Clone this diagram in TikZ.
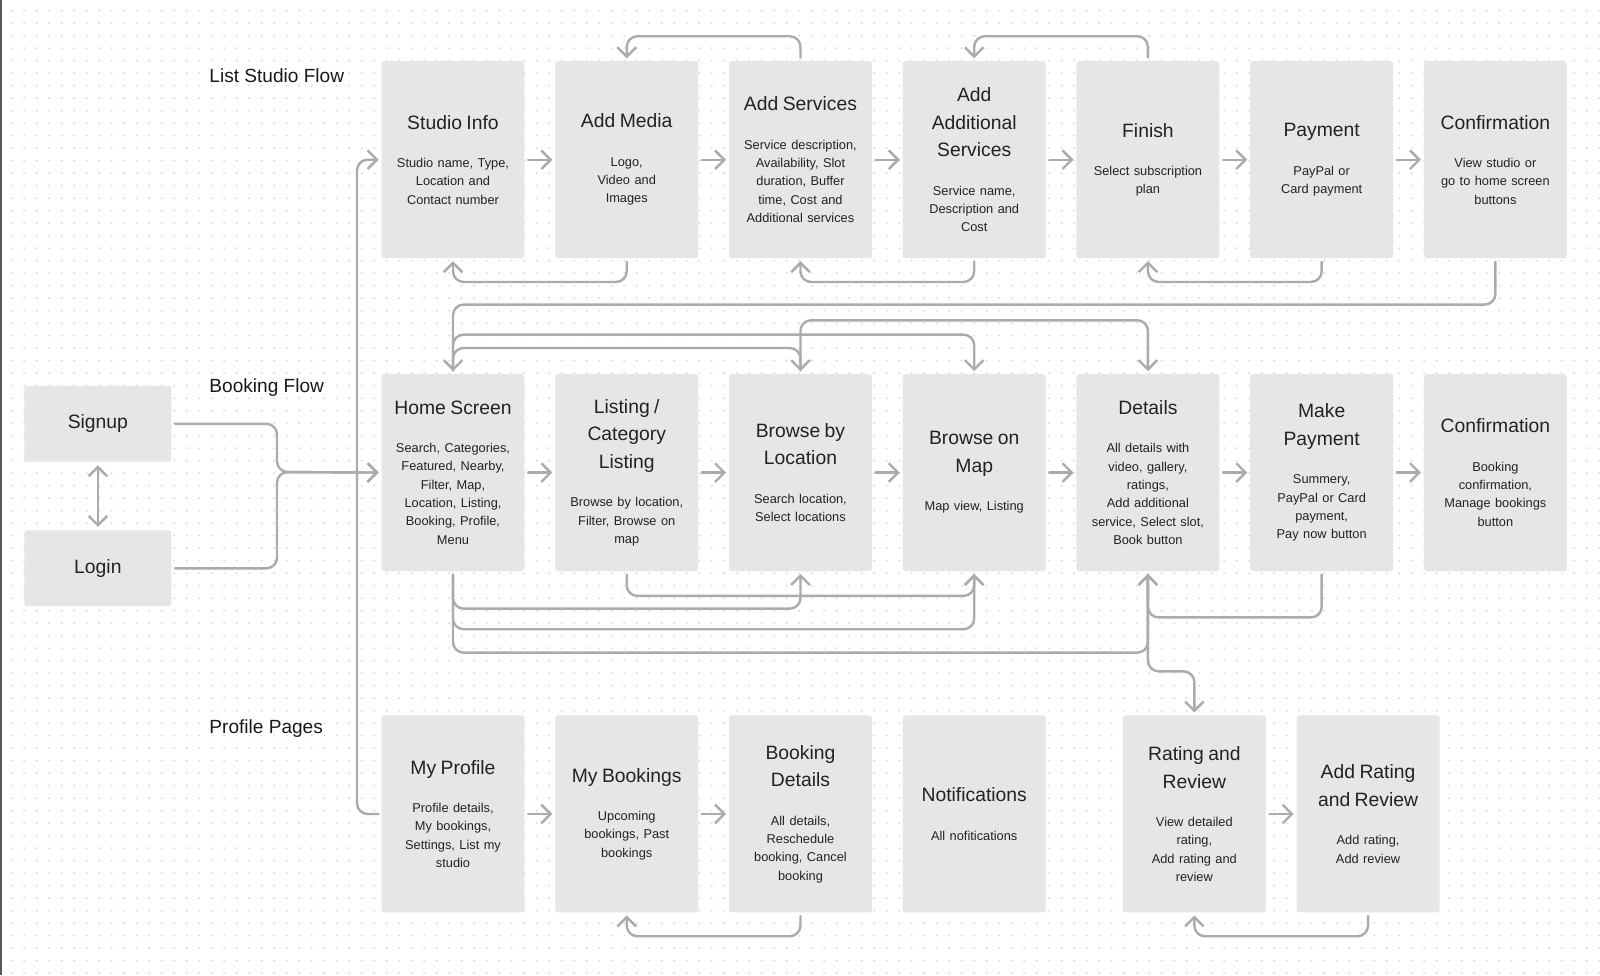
\documentclass[tikz,border=0pt]{standalone}
\usepackage{fontspec}
\setmainfont{Liberation Sans}
\usetikzlibrary{positioning,arrows.meta}

\definecolor{cardgray}{HTML}{E6E6E6}
\definecolor{wiregray}{HTML}{ABABAB}
\definecolor{inkgray}{HTML}{222222}
\definecolor{dotgray}{HTML}{D9D9D9}

\newcommand\cardtitle[1]{{\fontsize{14.5pt}{20.7pt}\selectfont #1\par}}
\newcommand\cardbody[1]{\vspace{15pt}{\fontsize{9.6pt}{13.75pt}\selectfont #1\par}}

\begin{document}
\begin{tikzpicture}[x=0.75pt, y=-0.75pt, node distance=22.7pt,
  screen/.style={fill=cardgray, rounded corners=2pt, text=inkgray, text width=101pt, align=center,
    inner xsep=3.1pt, inner ysep=0pt, minimum height=147.75pt},
  authbox/.style={fill=cardgray, rounded corners=2pt, text=inkgray, minimum width=110.3pt,
    minimum height=56.8pt, font=\fontsize{14.5pt}{17pt}\selectfont},
  flowlabel/.style={anchor=west, inner sep=0pt, text=black!90, font=\fontsize{14.3pt}{17pt}\selectfont},
  wire/.style={draw=wiregray, line width=1.8pt, rounded corners=8pt, line cap=round, line join=round},
  flow/.style={wire, -{Straight Barb[length=7pt, width=14pt]}, shorten >=2pt, shorten <=2.5pt},
  dotrow/.style={dotgray, line width=1.6pt, line cap=round, dash pattern=on 0pt off 9.375pt}]

  % canvas
  \fill[white] (0,0) rectangle (1600,975);
  \useasboundingbox (0,0) rectangle (1600,975);
  \foreach \r in {0,...,77}
    \draw[dotrow] (11.7,10.7+12.5*\r) -- (1600,10.7+12.5*\r);
  \draw[black!65, line width=1.5pt] (1,0) -- (1,975);

  \node[flowlabel] (lsflow) at (209.2,75.5) {List Studio Flow};
  \node[flowlabel] (bkflow) at (209.2,387.8) {Booking Flow};
  \node[flowlabel] (pfpages) at (209.2,728.6) {Profile Pages};

  % list studio flow
  \node[screen] (studio) at (453,159.7) {\cardtitle{Studio Info}\cardbody{Studio name, Type,\\Location and\\Contact number}};
  \node[screen, right=of studio] (media) {\cardtitle{Add Media}\cardbody{Logo,\\Video and\\Images}};
  \node[screen, right=of media] (services) {\cardtitle{Add Services}\cardbody{Service description,\\Availability, Slot\\duration, Buffer\\time, Cost and\\Additional services}};
  \node[screen, right=of services] (extras) {\cardtitle{Add\\Additional\\Services}\cardbody{Service name,\\Description and\\Cost}};
  \node[screen, right=of extras] (finish) {\cardtitle{Finish}\cardbody{Select subscription\\plan}};
  \node[screen, right=of finish] (payment) {\cardtitle{Payment}\cardbody{PayPal or\\Card payment}};
  \node[screen, right=of payment] (confirm) {\cardtitle{Confirmation}\cardbody{View studio or\\go to home screen\\buttons}};

  % booking flow
  \node[screen, below=86.5pt of studio] (home) {\cardtitle{Home Screen}\cardbody{Search, Categories,\\Featured, Nearby,\\Filter, Map,\\Location, Listing,\\Booking, Profile,\\Menu}};
  \node[screen, right=of home] (listing) {\cardtitle{Listing /\\Category\\Listing}\cardbody{Browse by location,\\Filter, Browse on\\map}};
  \node[screen, right=of listing] (bylocation) {\cardtitle{Browse by\\Location}\cardbody{Search location,\\Select locations}};
  \node[screen, right=of bylocation] (onmap) {\cardtitle{Browse on\\Map}\cardbody{Map view, Listing}};
  \node[screen, right=of onmap] (details) {\cardtitle{Details}\cardbody{All details with\\video, gallery,\\ratings,\\Add additional\\service, Select slot,\\Book button}};
  \node[screen, right=of details] (makepay) {\cardtitle{Make\\Payment}\cardbody{Summery,\\PayPal or Card\\payment,\\Pay now button}};
  \node[screen, right=of makepay] (booked) {\cardtitle{Confirmation}\cardbody{Booking\\confirmation,\\Manage bookings\\button}};

  % profile pages
  \node[screen, below=107.9pt of home] (profile) {\cardtitle{My Profile}\cardbody{Profile details,\\My bookings,\\Settings, List my\\studio}};
  \node[screen, right=of profile] (mybookings) {\cardtitle{My Bookings}\cardbody{Upcoming\\bookings, Past\\bookings}};
  \node[screen, right=of mybookings] (bkdetails) {\cardtitle{Booking\\Details}\cardbody{All details,\\Reschedule\\booking, Cancel\\booking}};
  \node[screen, right=of bkdetails] (notif) {\cardtitle{Notifications}\cardbody{All nofitications}};
  \node[screen, right=57.5pt of notif] (rating) {\cardtitle{Rating and\\Review}\cardbody{View detailed\\rating,\\Add rating and\\review}};
  \node[screen, right=of rating] (addrating) {\cardtitle{Add Rating\\and Review}\cardbody{Add rating,\\Add review}};

  \node[authbox] (signup) at (97.9,423.8) {Signup};
  \node[authbox, below=51.2pt of signup] (login) {Login};

  % straight steps
  \foreach \a/\b in {studio/media, media/services, services/extras, extras/finish, finish/payment,
    payment/confirm, home/listing, listing/bylocation, bylocation/onmap, onmap/details,
    details/makepay, makepay/booked, profile/mybookings, mybookings/bkdetails, rating/addrating}
    \draw[flow] (\a) -- (\b);

  % back steps
  \draw[flow] (media.south) -- ++(0,23.5) -| (studio.south);
  \draw[flow] (extras.south) -- ++(0,23.5) -| (services.south);
  \draw[flow] (payment.south) -- ++(0,23.5) -| (finish.south);
  \draw[flow] (services.north) -- ++(0,-24.7) -| (media.north);
  \draw[flow] (finish.north) -- ++(0,-24.7) -| (extras.north);
  \draw[flow] (confirm.south) -- ++(0,46.1) -| (home.north);

  \draw[flow] (home.north) -- ++(0,-39.2) -| (onmap.north);
  \draw[flow] (home.north) -- ++(0,-25.8) -| (bylocation.north);
  \draw[flow] (bylocation.north) -- ++(0,-53.5) -| (details.north);

  \draw[flow] (listing.south) -- ++(0,24.6) -| (onmap.south);
  \draw[flow] (home.south) -- ++(0,37.3) -| (bylocation.south);
  \draw[flow] (home.south) -- ++(0,57.9) -| (onmap.south);
  \draw[flow] (home.south) -- ++(0,81.3) -| (details.south);
  \draw[flow] (makepay.south) -- ++(0,46.1) -| (details.south);
  \draw[flow] (details.south) -- ++(0,100) -| (rating.north);

  \draw[flow] (bkdetails.south) -- ++(0,23.5) -| (mybookings.south);
  \draw[flow] (addrating.south) -- ++(0,23.5) -| (rating.south);

  % entry
  \coordinate (merge) at (277,472);
  \coordinate (spine) at (357,472);
  \draw[flow] (signup.east) -| (merge) -- (home.west);
  \draw[flow] (login.east) -| (merge) -- (home.west);
  \draw[flow, shorten <=0pt] (spine) |- (studio.west);
  \draw[wire, shorten >=2pt] (spine) |- (profile.west);
  \draw[wire, {Straight Barb[length=7pt, width=14pt]}-{Straight Barb[length=7pt, width=14pt]},
    shorten <=2.5pt, shorten >=2.5pt] (signup) -- (login);
\end{tikzpicture}
\end{document}
